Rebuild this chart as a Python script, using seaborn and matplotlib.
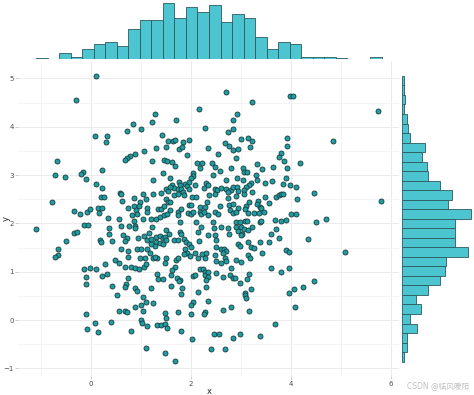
import numpy as np
import pandas as pd
import seaborn as sns
import matplotlib.pyplot as plt

# scatter points (x, y kept as parallel lists)
x_vals = [
    0.85, 1.23, 0.73, 1.01, 0.33, 0.09, 0.30, 1.30,
    1.07, 0.88, 0.79, 0.73, 0.69, 1.22, 1.47, 0.22,
    1.44, 1.25, 0.11, 0.23, 0.59, 0.60, 1.05, 1.24,
    1.41, 0.21, 0.27, 0.87, 1.11, 0.63, 0.98, 0.75,
    0.87, 0.96, 0.90, 1.13, 1.13, 1.35, 1.41, 1.46,
    0.15, 0.23, 0.17, 0.35, 0.56, 0.82, 0.93, 0.87,
    1.05, 1.21, 1.30, 1.38, 1.46, 0.60, 0.77, 0.88,
    0.11, -0.29, -0.67, -0.71, -0.52, -0.15, -0.20, -0.10,
    -0.77, -0.34, -0.22, -0.07, -0.01, -0.13, -0.05, -1.09,
    1.29, 2.16, 1.43,
    1.70, 2.85, 2.28, 2.75, 2.85, 1.55, 1.65, 1.69,
    1.85, 1.97, 1.76, 1.83, 1.51, 2.68, 2.77, 2.35,
    2.85, 1.93, 2.55, 1.53, 1.63, 1.68, 2.12, 2.23,
    2.42, 2.19, 2.48, 2.81, 2.59, 2.04, 2.05, 2.45,
    1.58, 2.00, 2.71, 2.31, 2.08, 1.88, 1.93, 1.96,
    1.76, 1.79, 1.63, 1.66, 1.51, 1.55, 1.59, 1.75,
    1.81, 1.85, 1.97, 2.27, 2.35, 2.48, 2.53, 2.61,
    2.71, 2.81, 2.85, 1.66, 1.75, 1.87, 2.03, 2.11,
    2.37, 2.48, 2.75, 2.75, 1.51, 1.55, 1.59, 1.96,
    2.00, 2.33, 2.18, 2.28, 2.58, 2.77, 2.85, 1.59,
    1.53, 1.75, 1.80, 1.75, 1.95, 2.01, 2.05, 2.18,
    2.21, 2.27, 2.35, 2.48, 2.55, 2.78, 2.85, 1.78,
    2.11, 2.45,
    3.01, 3.15, 3.23, 3.19, 3.93, 3.93, 2.95, 3.80,
    3.77, 2.90, 3.87, 3.33, 4.18, 3.05, 3.07, 3.43,
    3.65, 3.93, 3.13, 3.31, 2.93, 3.05, 3.33, 3.91,
    3.21, 3.16, 3.11, 3.48, 3.63, 3.85, 3.98, 4.11,
    2.93, 2.95, 3.07, 3.07, 3.23, 2.91, 3.49, 3.71,
    3.77, 3.81, 3.85, 4.13, 3.35, 3.33, 3.57, 3.16,
    3.11, 3.38, 3.41, 2.95, 2.91, 3.08, 3.15, 3.27,
    3.36, 3.47, 4.00, 4.11, 3.68, 3.81, 3.91, 3.08,
    3.13, 3.38, 3.41, 2.91, 2.98,
    2.71, 3.98, 4.05, 3.23, 5.75, 2.93, 4.85, 4.46,
    5.80, 4.51, 4.70,
    0.37, 0.36, 0.18, 0.20, 0.43, 0.65, 0.73, 0.69,
    0.89, 1.16, 1.23, 0.95, 1.06, 1.13, 1.21, 1.31,
    1.38, 1.45, 1.31, 1.38, 1.45, 1.28, 0.93, 1.00,
    1.13, 1.20, 0.61, 0.75, 0.75, 1.18, 1.25, 1.33,
    1.28, 0.98, 1.08, 0.48, 0.56, 0.28, 0.11, 0.68,
    0.80, 0.88, 0.97, 1.06, 1.11, 0.23, 0.33, 0.75,
    1.33, 1.35, 1.45, 0.71, 0.68, 0.88, 0.93, 0.43,
    1.20, 0.53, 1.05, 0.88, 1.01, 1.11, 1.25, 0.68,
    0.73, 1.05, 1.01, 1.03, 0.40, 0.09, 1.13, 1.33,
    1.41, 1.48, 0.81,
    -0.34, -0.27, -0.49, -0.65, -0.65, -0.72, -0.14, -0.01,
    -0.10, -0.10, -0.10, -0.07, 0.15, 1.10, 1.49, 1.69,
    2.03, 0.57, 1.48, 1.50,
    1.51, 1.56, 1.48, 1.51, 1.78, 1.80, 1.67, 1.75,
    1.87, 1.91, 1.96, 2.00, 2.15, 2.20, 2.16, 2.35,
    2.47, 2.49, 2.51, 2.61, 2.75, 2.76, 1.89, 1.93,
    1.87, 1.98, 2.09, 2.15, 2.23, 2.31, 2.28, 2.51,
    2.60, 2.67, 2.71, 2.65, 2.68, 2.71, 2.61, 2.48,
    2.51, 1.51, 1.49, 1.71, 1.75, 1.69, 2.18, 2.25,
    2.29, 2.28, 2.35, 2.35, 2.31, 2.05, 2.09, 2.51,
    2.65, 2.78, 2.85, 2.81, 1.63, 1.61, 1.73, 1.78,
    1.76, 1.61, 1.83, 2.31, 2.15, 1.81, 2.35, 2.05,
    2.01, 2.81, 2.28, 2.27, 1.75, 2.00, 2.65, 1.53,
    1.80, 2.47, 2.56,
    2.91, 3.01, 3.07, 3.15, 2.95, 3.03, 3.01, 3.23,
    3.61, 3.71, 3.76, 3.15, 3.38, 3.56, 2.95, 2.99,
    3.21, 3.27, 3.43, 3.91, 3.96, 3.15, 3.19, 2.91,
    3.01, 3.60, 3.96, 3.81, 3.16, 2.89, 3.13, 2.98,
    4.25, 3.20, 4.06, 3.96, 3.08, 3.09, 3.11, 4.08,
    3.16, 3.69, 2.98,
    4.35, 5.08, 4.46, 3.38, 2.85, 2.40, 2.69,
]
y_vals = [
    4.05, 4.10, 3.92, 3.95, 3.81, 3.81, 3.68, 3.55,
    3.50, 3.43, 3.39, 3.35, 3.31, 3.28, 3.31, 3.10,
    3.04, 2.90, 2.81, 2.74, 2.63, 2.60, 2.60, 2.61,
    2.63, 2.54, 2.55, 2.53, 2.51, 2.46, 2.45, 2.32,
    2.36, 2.36, 2.28, 2.31, 2.24, 2.29, 2.29, 2.36,
    2.31, 2.31, 2.21, 2.12, 2.10, 2.17, 2.20, 2.05,
    2.10, 2.10, 2.10, 2.14, 2.17, 1.95, 1.95, 1.95,
    5.05, 4.55, 3.30, 3.01, 2.95, 3.07, 3.02, 2.91,
    2.45, 2.26, 2.19, 2.23, 2.30, 1.97, 1.97, 1.88,
    4.27, 4.36, 3.83,
    4.14, 4.14, 3.97, 3.90, 3.95, 3.70, 3.70, 3.72,
    3.68, 3.73, 3.54, 3.57, 3.58, 3.66, 3.61, 3.55,
    3.51, 3.41, 3.43, 3.30, 3.26, 3.19, 3.24, 3.24,
    3.24, 3.14, 3.17, 3.15, 3.08, 3.05, 2.98, 3.00,
    2.93, 2.93, 2.90, 2.83, 2.79, 2.81, 2.77, 2.85,
    2.86, 2.79, 2.79, 2.74, 2.72, 2.67, 2.76, 2.72,
    2.71, 2.64, 2.71, 2.74, 2.79, 2.71, 2.68, 2.74,
    2.71, 2.68, 2.76, 2.59, 2.60, 2.59, 2.55, 2.55,
    2.59, 2.61, 2.64, 2.52, 2.50, 2.44, 2.44, 2.39,
    2.38, 2.44, 2.34, 2.34, 2.36, 2.39, 2.41, 2.28,
    2.20, 2.24, 2.29, 2.17, 2.21, 2.20, 2.24, 2.23,
    2.20, 2.24, 2.17, 2.24, 2.19, 2.28, 2.21, 2.02,
    2.02, 2.02,
    3.74, 3.77, 3.71, 3.59, 3.76, 3.60, 3.53, 3.46,
    3.37, 3.36, 3.30, 3.22, 3.24, 3.15, 3.07, 3.12,
    3.16, 3.14, 3.06, 3.01, 2.94, 2.90, 2.90, 2.93,
    2.83, 2.79, 2.76, 2.84, 2.88, 2.81, 2.79, 2.76,
    2.76, 2.67, 2.69, 2.60, 2.64, 2.57, 2.55, 2.55,
    2.59, 2.61, 2.61, 2.50, 2.46, 2.41, 2.43, 2.44,
    2.36, 2.34, 2.31, 2.31, 2.24, 2.30, 2.21, 2.21,
    2.22, 2.24, 2.19, 2.20, 2.07, 2.05, 2.07, 2.05,
    2.05, 2.02, 2.05, 2.02, 2.02,
    4.72, 4.63, 4.63, 4.52, 4.33, 4.27, 3.71, 2.63,
    2.46, 2.03, 2.08,
    1.90, 1.77, 1.66, 1.61, 1.64, 1.76, 1.70, 1.63,
    1.91, 1.81, 1.93, 1.70, 1.74, 1.66, 1.68, 1.72,
    1.74, 1.69, 1.62, 1.59, 1.57, 1.54, 1.48, 1.46,
    1.48, 1.57, 1.48, 1.43, 1.31, 1.38, 1.28, 1.28,
    1.31, 1.28, 1.28, 1.24, 1.17, 1.15, 1.06, 1.10,
    1.10, 1.07, 1.05, 1.10, 1.15, 0.92, 0.95, 0.86,
    0.95, 0.85, 0.85, 0.74, 0.69, 0.67, 0.61, 0.71,
    0.67, 0.52, 0.48, 0.28, 0.31, 0.37, 0.36, 0.19,
    0.16, 0.19, 0.00, -0.07, -0.05, -0.07, -0.12, -0.10,
    -0.10, -0.09, -0.23,
    1.81, 1.83, 1.64, 1.46, 1.34, 1.31, 1.05, 1.07,
    0.90, 0.74, 0.12, -0.19, -0.25, -0.58, -0.68, -0.85,
    -0.40, 0.19, 0.14, 0.04,
    1.86, 1.79, 1.72, 1.66, 1.83, 1.77, 1.66, 1.66,
    1.68, 1.62, 1.57, 1.52, 1.83, 1.93, 1.63, 1.76,
    1.90, 1.76, 1.66, 1.93, 1.90, 1.77, 1.47, 1.38,
    1.36, 1.33, 1.38, 1.29, 1.36, 1.38, 1.28, 1.52,
    1.47, 1.48, 1.43, 1.38, 1.29, 1.22, 1.19, 1.34,
    1.22, 1.28, 1.17, 1.24, 1.28, 1.10, 1.06, 1.06,
    1.00, 0.93, 1.00, 0.90, 0.83, 0.92, 0.93, 0.97,
    0.90, 0.93, 0.86, 1.07, 1.03, 0.93, 0.88, 0.83,
    0.81, 0.71, 0.66, 0.69, 0.59, 0.53, 0.39, 0.37,
    0.32, 0.26, 0.17, 0.12, 0.16, 0.12, 0.21, -0.17,
    -0.23, -0.28, -0.28,
    1.93, 1.93, 1.88, 1.86, 1.84, 1.79, 1.76, 1.93,
    1.79, 1.88, 1.70, 1.62, 1.62, 1.62, 1.57, 1.54,
    1.52, 1.50, 1.39, 1.45, 1.41, 1.34, 1.28, 1.24,
    1.21, 1.08, 1.08, 1.00, 0.95, 0.86, 0.84, 0.76,
    0.68, 0.64, 0.64, 0.55, 0.56, 0.52, 0.46, 0.26,
    0.19, -0.09, -0.28,
    1.67, 1.41, 0.81, -0.34, -0.38, -0.59, -0.59,
]

# marginal histogram counts (30 bins each)
x_counts = [1, 0, 5, 2, 8, 12, 14, 11, 24, 31, 31, 45, 33, 42, 38,
            43, 30, 36, 33, 18, 8, 14, 12, 2, 2, 2, 1, 0, 0, 2]
# y counts from the lowest bin upwards
y_counts = [1, 3, 3, 10, 5, 12, 9, 17, 25, 28, 29, 43, 35, 35, 35,
            45, 30, 33, 25, 17, 16, 13, 15, 5, 4, 3, 1, 2, 1, 1]
x_range = (-1.10, 5.82)
y_range = (-0.86, 5.05)

x_ticks = [0, 2, 4, 6]
y_ticks = [-1, 0, 1, 2, 3, 4, 5]

sns.set_theme(style="white")
plt.rcParams['font.family'] = ['DejaVu Sans', 'Noto Sans CJK SC']

hist_fill = "#4dc5d0"
hist_edge = "#2b5b60"
point_fill = "#1c9ea3"
point_edge = "#1a3a3c"

fig = plt.figure(figsize=(4.74, 3.95), dpi=100)
ax = fig.add_axes([0.0390, 0.0478, 0.8038, 0.7967])
ax_top = fig.add_axes([0.0390, 0.8494, 0.8038, 0.1506])
ax_right = fig.add_axes([0.8487, 0.0478, 0.1513, 0.7967])

# main scatter
sns.scatterplot(x=x_vals, y=y_vals, ax=ax, s=13, color=point_fill,
                edgecolor=point_edge, linewidth=0.6, zorder=3)
ax.set_xlim(-1.45, 6.17)
ax.set_ylim(-1.16, 5.35)
ax.set_xticks(x_ticks)
ax.set_yticks(y_ticks)
ax.set_xticks([-1, 1, 3, 5], minor=True)
ax.set_yticks(np.arange(-0.5, 5.0, 1.0), minor=True)
ax.grid(True, which="major", color="#ebebeb", linewidth=0.7, zorder=0)
ax.grid(True, which="minor", color="#f3f3f3", linewidth=0.6, zorder=0)
ax.set_axisbelow(True)
for s in ax.spines.values():
    s.set_visible(False)
ax.tick_params(which="major", length=2, width=0.5, color="#b5b5b5",
               labelsize=5, labelcolor="#4d4d4d", pad=1.5,
               bottom=True, left=True)
ax.tick_params(which="minor", length=0)
ax.set_xlabel("x", fontsize=6)
ax.set_ylabel("y", fontsize=6)
# titles sit tight against the tick labels, as in the original
ax.xaxis.set_label_coords(0.5, -0.035)
ax.yaxis.set_label_coords(-0.020, 0.5)

# top marginal histogram (bin centres weighted by the read counts)
x_step = (x_range[1] - x_range[0]) / len(x_counts)
top_df = pd.DataFrame({
    "mid": x_range[0] + x_step * (np.arange(len(x_counts)) + 0.5),
    "count": x_counts,
})
sns.histplot(data=top_df, x="mid", weights="count", bins=len(x_counts),
             binrange=x_range, ax=ax_top, color=hist_fill,
             edgecolor=hist_edge, linewidth=0.6, alpha=1)
ax_top.set_xlim(ax.get_xlim())
ax_top.set_ylim(0, 47.2)
ax_top.axis("off")

# right marginal histogram
y_step = (y_range[1] - y_range[0]) / len(y_counts)
right_df = pd.DataFrame({
    "mid": y_range[0] + y_step * (np.arange(len(y_counts)) + 0.5),
    "count": y_counts,
})
sns.histplot(data=right_df, y="mid", weights="count", bins=len(y_counts),
             binrange=y_range, ax=ax_right, color=hist_fill,
             edgecolor=hist_edge, linewidth=0.6, alpha=1)
ax_right.set_ylim(ax.get_ylim())
ax_right.set_xlim(0, 47.2)
ax_right.axis("off")

fig.text(0.99, 0.012, "CSDN @临风暖阳", ha="right", va="bottom",
         fontsize=5.5, color="#c0c0c0",
         family=['DejaVu Sans', 'Noto Sans CJK SC'])

fig.savefig("out.png", dpi=100)
